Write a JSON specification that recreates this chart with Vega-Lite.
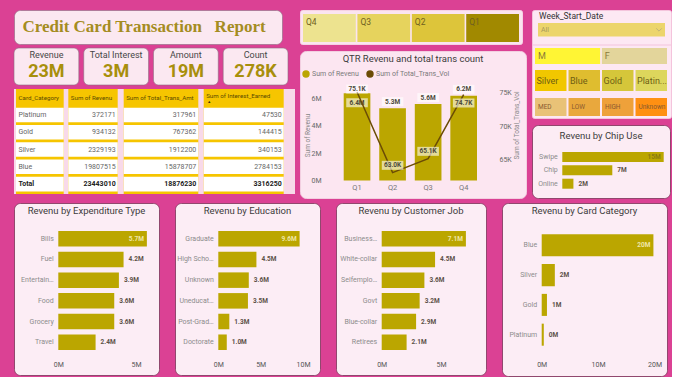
{
"$schema": "https://vega.github.io/schema/vega-lite/v6.json",
"background": "#db4194",
"padding": {"left": 13, "top": 9, "right": 0, "bottom": 0},
"spacing": 3,
"config": {
  "font": "Roboto",
  "view": {"stroke": null, "fill": null},
  "axis": {"domain": false, "ticks": false, "grid": false, "labelColor": "#8c8c8c", "labelFontSize": 7, "labelFont": "Roboto", "titleFont": "Roboto", "titleFontSize": 6.5, "titleColor": "#7a7a7a", "titleFontWeight": "normal", "labelFlush": false, "labelOverlap": false},
  "text": {"font": "Roboto"}
},
"vconcat": [
 {"hconcat": [
  {"vconcat": [
   {
    "width": 268, "height": 34,
    "view": {"fill": "#fbe8f1", "stroke": "#8a6a80", "strokeOpacity": 0.6, "cornerRadius": 6},
    "data": {"values": [{"Report": "Credit Card Transaction\u00a0\u00a0\u00a0Report"}]},
    "mark": {"type": "text", "font": "Liberation Serif", "fontWeight": "bold", "fontSize": 17, "color": "#a48c22", "dx": -4, "baseline": "middle"},
    "encoding": {"text": {"field": "Report"}}
   },
   {
    "width": 274, "height": 37,
    "data": {"values": [
      {"Measure": "Revenue", "Value": 23443010},
      {"Measure": "Total Interest", "Value": 3316250},
      {"Measure": "Amount", "Value": 18876230},
      {"Measure": "Count", "Value": 277900}
    ]},
    "transform": [{"calculate": "datum.Value >= 1e6 ? format(datum.Value / 1e6, '.0f') + 'M' : format(datum.Value / 1e3, '.0f') + 'K'", "as": "Display"}],
    "encoding": {"x": {"field": "Measure", "type": "nominal", "sort": null, "scale": {"type": "band", "paddingInner": 0.07, "paddingOuter": 0}, "axis": null}},
    "layer": [
     {"mark": {"type": "bar", "fill": "#fbe8f1", "stroke": "#8a6a80", "strokeOpacity": 0.6, "cornerRadius": 5}},
     {"mark": {"type": "text", "fontSize": 9, "color": "#474747", "dy": -11.5, "baseline": "middle"}, "encoding": {"text": {"field": "Measure"}}},
     {"mark": {"type": "text", "fontSize": 18, "fontWeight": "bold", "color": "#a88f0c", "dy": 5.5, "baseline": "middle"}, "encoding": {"text": {"field": "Display"}}}
    ]
   },
   {
    "width": 281, "height": 105,
    "view": {"fill": "#f8d9e9", "stroke": null},
    "data": {"values": [
      {"Card_Category": "Platinum", "Revenu": 372171, "Total_Trans_Amt": 317961, "Interest_Earned": 47530},
      {"Card_Category": "Gold", "Revenu": 934132, "Total_Trans_Amt": 767362, "Interest_Earned": 144415},
      {"Card_Category": "Silver", "Revenu": 2329193, "Total_Trans_Amt": 1912200, "Interest_Earned": 340153},
      {"Card_Category": "Blue", "Revenu": 19807515, "Total_Trans_Amt": 15878707, "Interest_Earned": 2784153},
      {"Card_Category": "Total", "Revenu": 23443010, "Total_Trans_Amt": 18876230, "Interest_Earned": 3316250}
    ]},
    "layer": [
     {
      "encoding": {"x": {"datum": "Card_Category", "type": "nominal", "scale": {"type": "band", "range": [2, 49.7], "paddingInner": 0, "paddingOuter": 0}, "axis": null}},
      "layer": [
       {"data": {"values": [{"Column": "Card_Category", "Row": "Header"}]}, "mark": {"type": "bar", "color": "#f6c500"}},
       {"mark": {"type": "rect", "color": "#ffffff"}, "encoding": {"y": {"field": "Card_Category", "type": "nominal", "scale": {"type": "band", "domain": ["Header", "Platinum", "Gold", "Silver", "Blue", "Total"], "range": [1.4, 102.4], "paddingInner": 0.16, "paddingOuter": 0}, "axis": null}}},
       {"data": {"values": [{"Column": "Card_Category", "Row": "Header"}]}, "mark": {"type": "text", "align": "left", "dx": 2.5, "fontSize": 6.2, "color": "#5b4b00"}, "encoding": {"x": {"datum": "Card_Category", "type": "nominal", "bandPosition": 0}, "y": {"field": "Row", "type": "nominal", "axis": null}, "text": {"field": "Column"}}},
       {"transform": [{"filter": "datum.Card_Category !== 'Total'"}], "mark": {"type": "text", "align": "left", "dx": 2.5, "fontSize": 7, "color": "#666666"}, "encoding": {"x": {"datum": "Card_Category", "type": "nominal", "bandPosition": 0}, "y": {"field": "Card_Category", "type": "nominal", "axis": null}, "text": {"field": "Card_Category"}}},
       {"transform": [{"filter": "datum.Card_Category === 'Total'"}], "mark": {"type": "text", "align": "left", "dx": 2.5, "fontSize": 7, "fontWeight": "bold", "color": "#222222"}, "encoding": {"x": {"datum": "Card_Category", "type": "nominal", "bandPosition": 0}, "y": {"field": "Card_Category", "type": "nominal", "axis": null}, "text": {"field": "Card_Category"}}}
      ]
     },
     {
      "encoding": {"x": {"datum": "Sum of Revenu", "type": "nominal", "scale": {"type": "band", "range": [54.3, 103.7], "paddingInner": 0, "paddingOuter": 0}, "axis": null}},
      "layer": [
       {"data": {"values": [{"Column": "Sum of Revenu", "Row": "Header"}]}, "mark": {"type": "bar", "color": "#f6c500"}},
       {"mark": {"type": "rect", "color": "#ffffff"}, "encoding": {"y": {"field": "Card_Category", "type": "nominal", "axis": null}}},
       {"data": {"values": [{"Column": "Sum of Revenu", "Row": "Header"}]}, "mark": {"type": "text", "align": "left", "dx": 2.5, "fontSize": 6.2, "color": "#5b4b00"}, "encoding": {"x": {"datum": "Sum of Revenu", "type": "nominal", "bandPosition": 0}, "y": {"field": "Row", "type": "nominal", "axis": null}, "text": {"field": "Column"}}},
       {"transform": [{"filter": "datum.Card_Category !== 'Total'"}], "mark": {"type": "text", "align": "right", "dx": -2, "fontSize": 7, "color": "#666666"}, "encoding": {"x": {"datum": "Sum of Revenu", "type": "nominal", "bandPosition": 1}, "y": {"field": "Card_Category", "type": "nominal", "axis": null}, "text": {"field": "Revenu", "type": "quantitative", "format": "d"}}},
       {"transform": [{"filter": "datum.Card_Category === 'Total'"}], "mark": {"type": "text", "align": "right", "dx": -2, "fontSize": 7, "fontWeight": "bold", "color": "#222222"}, "encoding": {"x": {"datum": "Sum of Revenu", "type": "nominal", "bandPosition": 1}, "y": {"field": "Card_Category", "type": "nominal", "axis": null}, "text": {"field": "Revenu", "type": "quantitative", "format": "d"}}}
      ]
     },
     {
      "encoding": {"x": {"datum": "Sum of Total_Trans_Amt", "type": "nominal", "scale": {"type": "band", "range": [109.7, 184.3], "paddingInner": 0, "paddingOuter": 0}, "axis": null}},
      "layer": [
       {"data": {"values": [{"Column": "Sum of Total_Trans_Amt", "Row": "Header"}]}, "mark": {"type": "bar", "color": "#f6c500"}},
       {"mark": {"type": "rect", "color": "#ffffff"}, "encoding": {"y": {"field": "Card_Category", "type": "nominal", "axis": null}}},
       {"data": {"values": [{"Column": "Sum of Total_Trans_Amt", "Row": "Header"}]}, "mark": {"type": "text", "align": "left", "dx": 2.5, "fontSize": 6.2, "color": "#5b4b00"}, "encoding": {"x": {"datum": "Sum of Total_Trans_Amt", "type": "nominal", "bandPosition": 0}, "y": {"field": "Row", "type": "nominal", "axis": null}, "text": {"field": "Column"}}},
       {"transform": [{"filter": "datum.Card_Category !== 'Total'"}], "mark": {"type": "text", "align": "right", "dx": -2, "fontSize": 7, "color": "#666666"}, "encoding": {"x": {"datum": "Sum of Total_Trans_Amt", "type": "nominal", "bandPosition": 1}, "y": {"field": "Card_Category", "type": "nominal", "axis": null}, "text": {"field": "Total_Trans_Amt", "type": "quantitative", "format": "d"}}},
       {"transform": [{"filter": "datum.Card_Category === 'Total'"}], "mark": {"type": "text", "align": "right", "dx": -2, "fontSize": 7, "fontWeight": "bold", "color": "#222222"}, "encoding": {"x": {"datum": "Sum of Total_Trans_Amt", "type": "nominal", "bandPosition": 1}, "y": {"field": "Card_Category", "type": "nominal", "axis": null}, "text": {"field": "Total_Trans_Amt", "type": "quantitative", "format": "d"}}}
      ]
     },
     {
      "encoding": {"x": {"datum": "Sum of Interest_Earned", "type": "nominal", "scale": {"type": "band", "range": [189.7, 269.7], "paddingInner": 0, "paddingOuter": 0}, "axis": null}},
      "layer": [
       {"data": {"values": [{"Column": "Sum of Interest_Earned", "Row": "Header"}]}, "mark": {"type": "bar", "color": "#f6c500"}},
       {"mark": {"type": "rect", "color": "#ffffff"}, "encoding": {"y": {"field": "Card_Category", "type": "nominal", "axis": null}}},
       {"data": {"values": [{"Column": "Sum of Interest_Earned", "Row": "Header"}]}, "mark": {"type": "text", "align": "left", "dx": 2.5, "fontSize": 6.2, "color": "#5b4b00", "yOffset": -1.5}, "encoding": {"x": {"datum": "Sum of Interest_Earned", "type": "nominal", "bandPosition": 0}, "y": {"field": "Row", "type": "nominal", "axis": null}, "text": {"field": "Column"}}},
       {"data": {"values": [{"Column": "Sum of Interest_Earned", "Row": "Header"}]}, "mark": {"type": "text", "align": "left", "dx": 3.5, "fontSize": 4, "color": "#3a3000", "yOffset": 4.5}, "encoding": {"x": {"datum": "Sum of Interest_Earned", "type": "nominal", "bandPosition": 0}, "y": {"field": "Row", "type": "nominal", "axis": null}, "text": {"value": "\u25b2"}}},
       {"transform": [{"filter": "datum.Card_Category !== 'Total'"}], "mark": {"type": "text", "align": "right", "dx": -2, "fontSize": 7, "color": "#666666"}, "encoding": {"x": {"datum": "Sum of Interest_Earned", "type": "nominal", "bandPosition": 1}, "y": {"field": "Card_Category", "type": "nominal", "axis": null}, "text": {"field": "Interest_Earned", "type": "quantitative", "format": "d"}}},
       {"transform": [{"filter": "datum.Card_Category === 'Total'"}], "mark": {"type": "text", "align": "right", "dx": -2, "fontSize": 7, "fontWeight": "bold", "color": "#222222"}, "encoding": {"x": {"datum": "Sum of Interest_Earned", "type": "nominal", "bandPosition": 1}, "y": {"field": "Card_Category", "type": "nominal", "axis": null}, "text": {"field": "Interest_Earned", "type": "quantitative", "format": "d"}}}
      ]
     }
    ],
    "resolve": {"scale": {"x": "independent"}}
   }
  ], "spacing": 4, "bounds": "flush"},
  {"vconcat": [
   {
    "width": 222, "height": 34,
    "view": {"fill": "#fbe4f0", "stroke": "#f6d2e4", "cornerRadius": 2},
    "data": {"values": [{"Qtr": "Q4"}, {"Qtr": "Q3"}, {"Qtr": "Q2"}, {"Qtr": "Q1"}]},
    "encoding": {
      "x": {"field": "Qtr", "type": "nominal", "scale": {"type": "band", "domain": ["Q4", "Q3", "Q2", "Q1"], "range": [3, 219], "paddingInner": 0.03, "paddingOuter": 0}, "axis": null},
      "y": {"datum": "Quarter", "type": "nominal", "scale": {"type": "band", "range": [4, 32], "paddingInner": 0, "paddingOuter": 0}, "axis": null}
    },
    "layer": [
     {"mark": "rect", "encoding": {"fill": {"field": "Qtr", "type": "nominal", "scale": {"domain": ["Q4", "Q3", "Q2", "Q1"], "range": ["#ede38f", "#e6d35d", "#ddc53a", "#a18900"]}, "legend": null}}},
     {"mark": {"type": "text", "align": "left", "dx": 3, "fontSize": 8.5, "color": "#6f6020"}, "encoding": {"x": {"field": "Qtr", "type": "nominal", "bandPosition": 0}, "y": {"datum": "Quarter", "type": "nominal", "bandPosition": 0.27}, "text": {"field": "Qtr"}}}
    ]
   },
   {
    "width": 226, "height": 147,
    "view": {"fill": "#fce6f1", "stroke": "#f3cfe1", "cornerRadius": 6},
    "layer": [
     {"data": {"values": [{"Chart": "QTR Revenu and total trans count"}]}, "mark": {"type": "text", "fontSize": 9.5, "color": "#3c3c3c", "baseline": "middle", "yOffset": -65.2}, "encoding": {"text": {"field": "Chart"}}},
     {
      "data": {"values": [
        {"Qtr": "Q1", "Revenu": 6400000, "Trans_Vol": 75100},
        {"Qtr": "Q2", "Revenu": 5300000, "Trans_Vol": 63000},
        {"Qtr": "Q3", "Revenu": 5600000, "Trans_Vol": 65100},
        {"Qtr": "Q4", "Revenu": 6200000, "Trans_Vol": 74700}
      ]},
      "transform": [
        {"calculate": "format(datum.Revenu / 1e6, '.1f') + 'M'", "as": "RevLabel"},
        {"calculate": "format(datum.Trans_Vol / 1e3, '.1f') + 'K'", "as": "VolLabel"}
      ],
      "encoding": {"x": {"field": "Qtr", "type": "nominal", "sort": null, "scale": {"type": "band", "range": [43.7, 177], "paddingInner": 0.25, "paddingOuter": 0}, "axis": {"title": null, "offset": -17.5, "labelPadding": 3, "labelAngle": 0, "labelFontSize": 7.5, "labelColor": "#777777"}}},
      "layer": [
       {
        "encoding": {"y": {"field": "Revenu", "type": "quantitative", "scale": {"domain": [0, 6000000], "range": [129.5, 47.6], "nice": false}, "axis": {"orient": "left", "title": "Sum of Revenu", "values": [0, 2000000, 4000000, 6000000], "labelExpr": "format(datum.value / 1e6, '.0f') + 'M'", "offset": -24, "labelPadding": 3, "labelColor": "#666666", "titleX": -17, "titleY": 84, "titleAngle": 270, "titleAlign": "center", "titleBaseline": "middle", "titleColor": "#888888"}}},
        "layer": [
         {"mark": {"type": "bar"}, "encoding": {"color": {"datum": "Sum of Revenu", "type": "nominal", "scale": {"domain": ["Sum of Revenu", "Sum of Total_Trans_Vol"], "range": ["#bba600", "#6b4c05"]}, "legend": {"orient": "none", "legendX": 288, "legendY": 60, "direction": "horizontal", "title": null, "symbolType": "circle", "symbolSize": 35, "labelFontSize": 7, "labelColor": "#7a7a7a", "columnPadding": 5, "padding": 0, "labelOffset": 2}}}},
         {"transform": [{"filter": "datum.Qtr === 'Q1'"}], "layer": [
           {"mark": {"type": "point", "shape": "M-2.4,-1H2.4V1H-2.4Z", "size": 81, "filled": true, "color": "#ffffff", "opacity": 0.6, "strokeWidth": 0, "yOffset": 9.6}},
           {"mark": {"type": "text", "fontSize": 6.5, "fontWeight": "bold", "color": "#4d4a3a", "yOffset": 9.6}, "encoding": {"text": {"field": "RevLabel"}}}
         ]},
         {"transform": [{"filter": "datum.Qtr !== 'Q1'"}], "layer": [
           {"mark": {"type": "point", "shape": "M-2.4,-1H2.4V1H-2.4Z", "size": 81, "filled": true, "color": "#ffffff", "opacity": 0.6, "strokeWidth": 0, "yOffset": -6.5}},
           {"mark": {"type": "text", "fontSize": 6.5, "fontWeight": "bold", "color": "#4d4a3a", "yOffset": -6.5}, "encoding": {"text": {"field": "RevLabel"}}}
         ]}
        ]
       },
       {
        "encoding": {"y": {"field": "Trans_Vol", "type": "quantitative", "scale": {"domain": [60000, 75000], "range": [141.6, 41.7], "nice": false, "zero": false}, "axis": {"orient": "right", "title": "Sum of Total_Trans_Vol", "values": [65000, 70000, 75000], "labelExpr": "format(datum.value / 1e3, '.0f') + 'K'", "offset": -30, "labelPadding": 3, "labelColor": "#666666", "titleX": 20, "titleY": 74, "titleAngle": 270, "titleAlign": "center", "titleBaseline": "middle", "titleColor": "#888888"}}},
        "layer": [
         {"mark": {"type": "line", "strokeWidth": 1.5}, "encoding": {"color": {"datum": "Sum of Total_Trans_Vol", "type": "nominal", "legend": null}}},
         {"transform": [{"filter": "datum.Qtr === 'Q1'"}], "layer": [
           {"mark": {"type": "point", "shape": "M-2.4,-1H2.4V1H-2.4Z", "size": 81, "filled": true, "color": "#ffffff", "opacity": 0.6, "strokeWidth": 0, "yOffset": -3}},
           {"mark": {"type": "text", "fontSize": 6.5, "fontWeight": "bold", "color": "#4d4a3a", "yOffset": -3}, "encoding": {"text": {"field": "VolLabel"}}}
         ]},
         {"transform": [{"filter": "datum.Qtr === 'Q2' || datum.Qtr === 'Q3'"}], "layer": [
           {"mark": {"type": "point", "shape": "M-2.4,-1H2.4V1H-2.4Z", "size": 81, "filled": true, "color": "#ffffff", "opacity": 0.6, "strokeWidth": 0, "yOffset": -7.3}},
           {"mark": {"type": "text", "fontSize": 6.5, "fontWeight": "bold", "color": "#4d4a3a", "yOffset": -7.3}, "encoding": {"text": {"field": "VolLabel"}}}
         ]},
         {"transform": [{"filter": "datum.Qtr === 'Q4'"}], "layer": [
           {"mark": {"type": "point", "shape": "M-2.4,-1H2.4V1H-2.4Z", "size": 81, "filled": true, "color": "#ffffff", "opacity": 0.6, "strokeWidth": 0, "yOffset": 8.3}},
           {"mark": {"type": "text", "fontSize": 6.5, "fontWeight": "bold", "color": "#4d4a3a", "yOffset": 8.3}, "encoding": {"text": {"field": "VolLabel"}}}
         ]}
        ]
       }
      ],
      "resolve": {"scale": {"y": "independent"}}
     }
    ]
   }
  ], "spacing": 7, "bounds": "flush"},
  {"vconcat": [
   {
    "width": 139, "height": 108,
    "view": {"fill": "#fde8f3", "stroke": "#f4c4dc", "cornerRadius": 2},
    "layer": [
     {
      "data": {"values": [{"Slicer": "Week_Start_Date", "Selection": "All"}]},
      "layer": [
       {"mark": {"type": "rect", "color": "#ecd56c"}, "encoding": {
         "x": {"field": "Selection", "type": "nominal", "scale": {"type": "band", "range": [6, 133], "paddingInner": 0, "paddingOuter": 0}, "axis": null},
         "y": {"field": "Slicer", "type": "nominal", "scale": {"type": "band", "range": [13, 26.5], "paddingInner": 0, "paddingOuter": 0}, "axis": null}}},
       {"mark": {"type": "text", "align": "left", "dx": 3, "fontSize": 7, "color": "#a8995c"}, "encoding": {
         "x": {"field": "Selection", "type": "nominal", "bandPosition": 0},
         "y": {"field": "Slicer", "type": "nominal"},
         "text": {"field": "Selection"}}},
       {"mark": {"type": "text", "align": "left", "dx": 1, "yOffset": -7, "fontSize": 8.5, "color": "#333333"}, "encoding": {
         "x": {"field": "Selection", "type": "nominal", "bandPosition": 0},
         "y": {"field": "Slicer", "type": "nominal", "bandPosition": 0},
         "text": {"field": "Slicer"}}},
       {"mark": {"type": "point", "shape": "M-1,-0.5L0,0.5L1,-0.5", "filled": false, "size": 30, "color": "#a09a80", "strokeWidth": 0.8, "xOffset": -6}, "encoding": {
         "x": {"field": "Selection", "type": "nominal", "bandPosition": 1},
         "y": {"field": "Slicer", "type": "nominal"}}},
       {"mark": {"type": "rule", "color": "#f3c4dc", "strokeWidth": 1, "yOffset": 8.5}, "encoding": {
         "y": {"field": "Slicer", "type": "nominal", "bandPosition": 1}}}
      ]
     },
     {
      "data": {"values": [{"Gender": "M"}, {"Gender": "F"}]},
      "encoding": {
        "x": {"field": "Gender", "type": "nominal", "scale": {"type": "band", "domain": ["M", "F"], "range": [3, 135], "paddingInner": 0.025, "paddingOuter": 0}, "axis": null},
        "y": {"datum": "Gender", "type": "nominal", "scale": {"type": "band", "range": [38, 54], "paddingInner": 0, "paddingOuter": 0}, "axis": null}
      },
      "layer": [
       {"mark": "rect", "encoding": {"fill": {"field": "Gender", "type": "nominal", "scale": {"domain": ["M", "F"], "range": ["#fff534", "#e3d59b"]}, "legend": null}}},
       {"mark": {"type": "text", "align": "left", "dx": 3, "fontSize": 9, "color": "#8a7a3a"}, "encoding": {"x": {"field": "Gender", "type": "nominal", "bandPosition": 0}, "text": {"field": "Gender"}}}
      ]
     },
     {
      "data": {"values": [{"Card_Category": "Silver"}, {"Card_Category": "Blue"}, {"Card_Category": "Gold"}, {"Card_Category": "Platinum"}]},
      "encoding": {
        "x": {"field": "Card_Category", "type": "nominal", "scale": {"type": "band", "domain": ["Silver", "Blue", "Gold", "Platinum"], "range": [3, 135], "paddingInner": 0.06, "paddingOuter": 0}, "axis": null},
        "y": {"datum": "Card_Category", "type": "nominal", "scale": {"type": "band", "range": [60, 81], "paddingInner": 0, "paddingOuter": 0}, "axis": null}
      },
      "layer": [
       {"mark": "rect", "encoding": {"fill": {"field": "Card_Category", "type": "nominal", "scale": {"domain": ["Silver", "Blue", "Gold", "Platinum"], "range": ["#f1c700", "#dfbd2f", "#d5c63a", "#ddd65c"]}, "legend": null}}},
       {"mark": {"type": "text", "align": "left", "dx": 1.5, "fontSize": 9, "color": "#6e5e14", "limit": 31, "ellipsis": "..."}, "encoding": {"x": {"field": "Card_Category", "type": "nominal", "bandPosition": 0}, "text": {"field": "Card_Category"}}}
      ]
     },
     {
      "data": {"values": [{"Income": "MED"}, {"Income": "LOW"}, {"Income": "HIGH"}, {"Income": "Unknown"}]},
      "encoding": {
        "x": {"field": "Income", "type": "nominal", "scale": {"type": "band", "domain": ["MED", "LOW", "HIGH", "Unknown"], "range": [3, 135], "paddingInner": 0.06, "paddingOuter": 0}, "axis": null},
        "y": {"datum": "Income", "type": "nominal", "scale": {"type": "band", "range": [88, 106], "paddingInner": 0, "paddingOuter": 0}, "axis": null}
      },
      "layer": [
       {"mark": "rect", "encoding": {"fill": {"field": "Income", "type": "nominal", "scale": {"domain": ["MED", "LOW", "HIGH", "Unknown"], "range": ["#e9c277", "#e9a83d", "#eea13a", "#ff9012"]}, "legend": null}}},
       {"mark": {"type": "text", "align": "left", "dx": 3, "fontSize": 6.5, "color": "#8a5a30"}, "encoding": {"x": {"field": "Income", "type": "nominal", "bandPosition": 0}, "text": {"field": "Income"}}}
      ]
     }
    ],
    "resolve": {"scale": {"x": "independent", "y": "independent", "fill": "independent"}}
   },
   {
    "width": 138, "height": 73,
    "view": {"fill": "#fcecf4", "stroke": "#7b3358", "strokeOpacity": 0.8, "cornerRadius": 6},
    "layer": [
     {"data": {"values": [{"Chart": "Revenu by Chip Use"}]}, "mark": {"type": "text", "fontSize": 9.5, "color": "#3c3c3c", "baseline": "middle", "yOffset": -25.8}, "encoding": {"text": {"field": "Chart"}}},
     {
      "data": {"values": [
        {"Chip_Use": "Swipe", "Revenu": 14600000},
        {"Chip_Use": "Chip", "Revenu": 7200000},
        {"Chip_Use": "Online", "Revenu": 1600000}
      ]},
      "transform": [
        {"joinaggregate": [{"op": "max", "field": "Revenu", "as": "Max_Revenu"}]},
        {"calculate": "format(datum.Revenu / 1e6, '.0f') + 'M'", "as": "Label"}
      ],
      "encoding": {
        "y": {"field": "Chip_Use", "type": "nominal", "sort": null, "scale": {"type": "band", "range": [27, 63.7], "paddingInner": 0.25, "paddingOuter": 0}, "axis": {"title": null, "offset": -30.3, "labelPadding": 5}},
        "x": {"field": "Revenu", "type": "quantitative", "scale": {"domain": [0, 10000000], "range": [30.3, 99.75], "nice": false}, "axis": null}
      },
      "layer": [
       {"mark": {"type": "bar", "color": "#bba600"}},
       {"transform": [{"filter": "datum.Revenu == datum.Max_Revenu"}], "mark": {"type": "text", "align": "right", "dx": -3, "fontSize": 6.5, "fontWeight": "bold", "color": "#8a7c10"}, "encoding": {"text": {"field": "Label"}}},
       {"transform": [{"filter": "datum.Revenu < datum.Max_Revenu"}], "mark": {"type": "text", "align": "left", "dx": 5, "fontSize": 6.5, "fontWeight": "bold", "color": "#5c5248"}, "encoding": {"text": {"field": "Label"}}}
      ]
     }
    ]
   }
  ], "spacing": 7, "bounds": "flush"}
 ], "spacing": 4},
 {"hconcat": [
  {
   "width": 145, "height": 172,
   "view": {"fill": "#fcedf5", "stroke": "#7b3358", "strokeOpacity": 0.8, "cornerRadius": 6},
   "layer": [
    {"data": {"values": [{"Chart": "Revenu by Expenditure Type"}]}, "mark": {"type": "text", "fontSize": 9.5, "color": "#3c3c3c", "baseline": "middle", "yOffset": -78}, "encoding": {"text": {"field": "Chart"}}},
    {
     "data": {"values": [
       {"Expenditure_Type": "Bills", "Revenu": 5700000},
       {"Expenditure_Type": "Fuel", "Revenu": 4200000},
       {"Expenditure_Type": "Entertainment", "Revenu": 3900000},
       {"Expenditure_Type": "Food", "Revenu": 3600000},
       {"Expenditure_Type": "Grocery", "Revenu": 3600000},
       {"Expenditure_Type": "Travel", "Revenu": 2400000}
     ]},
     "transform": [
       {"joinaggregate": [{"op": "max", "field": "Revenu", "as": "Max_Revenu"}]},
       {"calculate": "format(datum.Revenu / 1e6, '.1f') + 'M'", "as": "Label"}
     ],
     "encoding": {
       "y": {"field": "Expenditure_Type", "type": "nominal", "sort": null, "scale": {"type": "band", "range": [28, 147], "paddingInner": 0.25, "paddingOuter": 0}, "axis": {"title": null, "offset": -44.3, "labelPadding": 5, "labelLimit": 38}},
       "x": {"field": "Revenu", "type": "quantitative", "scale": {"domain": [0, 5000000], "range": [44.3, 122], "nice": false}, "axis": {"title": null, "values": [0, 5000000], "labelExpr": "format(datum.value / 1e6, '.0f') + 'M'", "offset": -17, "labelPadding": 2, "labelColor": "#555555"}}
     },
     "layer": [
      {"mark": {"type": "bar", "color": "#bba600"}},
      {"transform": [{"filter": "datum.Revenu == datum.Max_Revenu"}], "mark": {"type": "text", "align": "right", "dx": -3, "fontSize": 6.5, "fontWeight": "bold", "color": "#efe6a8"}, "encoding": {"text": {"field": "Label"}}},
      {"transform": [{"filter": "datum.Revenu < datum.Max_Revenu"}], "mark": {"type": "text", "align": "left", "dx": 5, "fontSize": 6.5, "fontWeight": "bold", "color": "#5c5248"}, "encoding": {"text": {"field": "Label"}}}
     ]
    }
   ]
  },
  {
   "width": 145, "height": 172,
   "view": {"fill": "#fcedf5", "stroke": "#7b3358", "strokeOpacity": 0.8, "cornerRadius": 6},
   "layer": [
    {"data": {"values": [{"Chart": "Revenu by Education"}]}, "mark": {"type": "text", "fontSize": 9.5, "color": "#3c3c3c", "baseline": "middle", "yOffset": -78}, "encoding": {"text": {"field": "Chart"}}},
    {
     "data": {"values": [
       {"Education": "Graduate", "Revenu": 9600000},
       {"Education": "High School", "Revenu": 4500000},
       {"Education": "Unknown", "Revenu": 3600000},
       {"Education": "Uneducated", "Revenu": 3500000},
       {"Education": "Post-Graduate", "Revenu": 1300000},
       {"Education": "Doctorate", "Revenu": 1000000}
     ]},
     "transform": [
       {"joinaggregate": [{"op": "max", "field": "Revenu", "as": "Max_Revenu"}]},
       {"calculate": "format(datum.Revenu / 1e6, '.1f') + 'M'", "as": "Label"}
     ],
     "encoding": {
       "y": {"field": "Education", "type": "nominal", "sort": null, "scale": {"type": "band", "range": [28, 147], "paddingInner": 0.25, "paddingOuter": 0}, "axis": {"title": null, "offset": -43.3, "labelPadding": 5, "labelLimit": 37}},
       "x": {"field": "Revenu", "type": "quantitative", "scale": {"domain": [0, 10000000], "range": [43.3, 128], "nice": false}, "axis": {"title": null, "values": [0, 5000000, 10000000], "labelExpr": "format(datum.value / 1e6, '.0f') + 'M'", "offset": -17, "labelPadding": 2, "labelColor": "#555555"}}
     },
     "layer": [
      {"mark": {"type": "bar", "color": "#bba600"}},
      {"transform": [{"filter": "datum.Revenu == datum.Max_Revenu"}], "mark": {"type": "text", "align": "right", "dx": -3, "fontSize": 6.5, "fontWeight": "bold", "color": "#efe6a8"}, "encoding": {"text": {"field": "Label"}}},
      {"transform": [{"filter": "datum.Revenu < datum.Max_Revenu"}], "mark": {"type": "text", "align": "left", "dx": 5, "fontSize": 6.5, "fontWeight": "bold", "color": "#5c5248"}, "encoding": {"text": {"field": "Label"}}}
     ]
    }
   ]
  },
  {
   "width": 150, "height": 172,
   "view": {"fill": "#fcedf5", "stroke": "#7b3358", "strokeOpacity": 0.8, "cornerRadius": 6},
   "layer": [
    {"data": {"values": [{"Chart": "Revenu by Customer Job"}]}, "mark": {"type": "text", "fontSize": 9.5, "color": "#3c3c3c", "baseline": "middle", "yOffset": -78}, "encoding": {"text": {"field": "Chart"}}},
    {
     "data": {"values": [
       {"Customer_Job": "Businessman", "Revenu": 7100000},
       {"Customer_Job": "White-collar", "Revenu": 4500000},
       {"Customer_Job": "Selfemployed", "Revenu": 3600000},
       {"Customer_Job": "Govt", "Revenu": 3200000},
       {"Customer_Job": "Blue-collar", "Revenu": 2900000},
       {"Customer_Job": "Retirees", "Revenu": 2100000}
     ]},
     "transform": [
       {"joinaggregate": [{"op": "max", "field": "Revenu", "as": "Max_Revenu"}]},
       {"calculate": "format(datum.Revenu / 1e6, '.1f') + 'M'", "as": "Label"}
     ],
     "encoding": {
       "y": {"field": "Customer_Job", "type": "nominal", "sort": null, "scale": {"type": "band", "range": [28, 147], "paddingInner": 0.25, "paddingOuter": 0}, "axis": {"title": null, "offset": -45.7, "labelPadding": 5, "labelLimit": 39}},
       "x": {"field": "Revenu", "type": "quantitative", "scale": {"domain": [0, 5000000], "range": [45.7, 105], "nice": false}, "axis": {"title": null, "values": [0, 5000000], "labelExpr": "format(datum.value / 1e6, '.0f') + 'M'", "offset": -17, "labelPadding": 2, "labelColor": "#555555"}}
     },
     "layer": [
      {"mark": {"type": "bar", "color": "#bba600"}},
      {"transform": [{"filter": "datum.Revenu == datum.Max_Revenu"}], "mark": {"type": "text", "align": "right", "dx": -3, "fontSize": 6.5, "fontWeight": "bold", "color": "#efe6a8"}, "encoding": {"text": {"field": "Label"}}},
      {"transform": [{"filter": "datum.Revenu < datum.Max_Revenu"}], "mark": {"type": "text", "align": "left", "dx": 5, "fontSize": 6.5, "fontWeight": "bold", "color": "#5c5248"}, "encoding": {"text": {"field": "Label"}}}
     ]
    }
   ]
  },
  {
   "width": 165, "height": 173,
   "view": {"fill": "#fcedf5", "stroke": "#7b3358", "strokeOpacity": 0.8, "cornerRadius": 6},
   "layer": [
    {"data": {"values": [{"Chart": "Revenu by Card Category"}]}, "mark": {"type": "text", "fontSize": 9.5, "color": "#3c3c3c", "baseline": "middle", "yOffset": -78.5}, "encoding": {"text": {"field": "Chart"}}},
    {
     "data": {"values": [
       {"Card_Category": "Blue", "Revenu": 19807515},
       {"Card_Category": "Silver", "Revenu": 2329193},
       {"Card_Category": "Gold", "Revenu": 934132},
       {"Card_Category": "Platinum", "Revenu": 372171}
     ]},
     "transform": [
       {"joinaggregate": [{"op": "max", "field": "Revenu", "as": "Max_Revenu"}]},
       {"calculate": "format(datum.Revenu / 1e6, '.0f') + 'M'", "as": "Label"}
     ],
     "encoding": {
       "y": {"field": "Card_Category", "type": "nominal", "sort": null, "scale": {"type": "band", "range": [31.3, 142.7], "paddingInner": 0.26, "paddingOuter": 0}, "axis": {"title": null, "offset": -39.7, "labelPadding": 5, "labelLimit": 36}},
       "x": {"field": "Revenu", "type": "quantitative", "scale": {"domain": [0, 20000000], "range": [39.7, 152.5], "nice": false}, "axis": {"title": null, "values": [0, 10000000, 20000000], "labelExpr": "format(datum.value / 1e6, '.0f') + 'M'", "offset": -18, "labelPadding": 2, "labelColor": "#555555"}}
     },
     "layer": [
      {"mark": {"type": "bar", "color": "#bba600"}},
      {"transform": [{"filter": "datum.Revenu == datum.Max_Revenu"}], "mark": {"type": "text", "align": "right", "dx": -3, "fontSize": 6.5, "fontWeight": "bold", "color": "#efe6a8"}, "encoding": {"text": {"field": "Label"}}},
      {"transform": [{"filter": "datum.Revenu < datum.Max_Revenu"}], "mark": {"type": "text", "align": "left", "dx": 5, "fontSize": 6.5, "fontWeight": "bold", "color": "#5c5248"}, "encoding": {"text": {"field": "Label"}}}
     ]
    }
   ]
  }
 ], "spacing": 16, "bounds": "flush"}
]
}
